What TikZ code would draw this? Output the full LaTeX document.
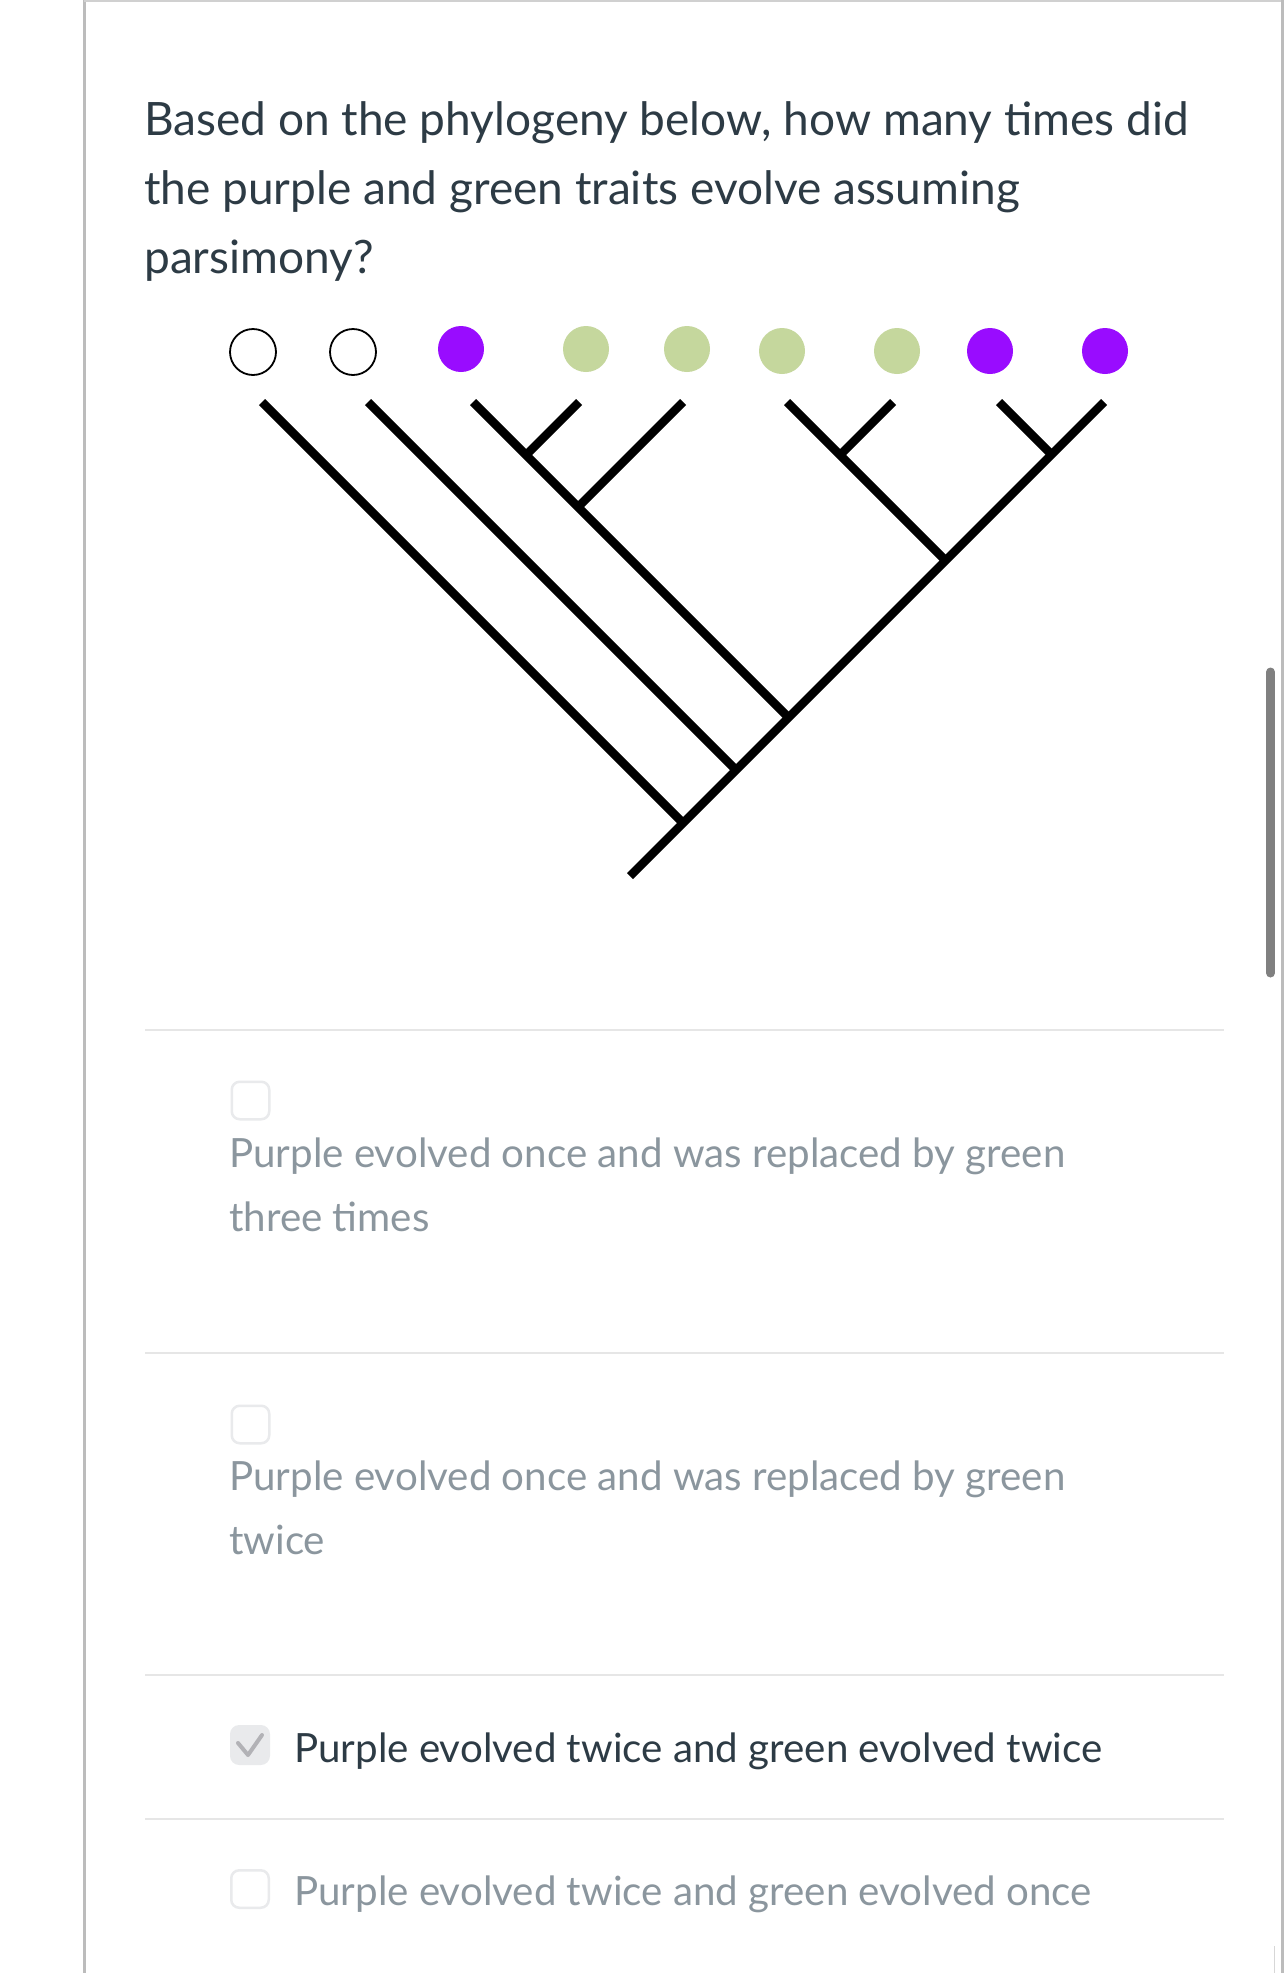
\documentclass[tikz,border=0pt]{standalone}
\usepackage{fontspec}
\setmainfont{Lato}
\usetikzlibrary{positioning, calc}
\definecolor{canvasdark}{RGB}{45, 59, 69}
\definecolor{canvasgray}{RGB}{139, 150, 158}
\definecolor{traitpurple}{RGB}{153, 12, 255}
\definecolor{traitgreen}{RGB}{197, 215, 157}
\definecolor{boxgray}{RGB}{233, 234, 236}
\definecolor{checkgray}{RGB}{178, 178, 182}
\definecolor{rulegray}{RGB}{230, 230, 230}
\definecolor{framegray}{RGB}{188, 188, 188}
\definecolor{scrollgray}{RGB}{128, 128, 128}
\tikzstyle{question} = [anchor=base west, inner sep=0pt, text=canvasdark, font=\fontsize{46}{66}\selectfont]
\tikzstyle{answer} = [anchor=base west, inner sep=0pt, text=canvasgray, font=\fontsize{40.3}{60}\selectfont]
\tikzstyle{chosen} = [answer, text=canvasdark]
\tikzstyle{tip} = [circle, minimum size=46pt, inner sep=0pt]
\tikzstyle{absenttip} = [tip, draw=black, line width=1.8pt, fill=white]
\tikzstyle{purpletip} = [tip, fill=traitpurple]
\tikzstyle{greentip} = [tip, fill=traitgreen]
\tikzstyle{branch} = [line width=8.5pt, line cap=butt, line join=miter]
\tikzstyle{checkbox} = [rectangle, rounded corners=8pt, minimum size=37.5pt, draw=boxgray, line width=2.5pt, fill=white]
\tikzstyle{ticked} = [checkbox, fill=boxgray]
\tikzstyle{checkmark} = [checkgray, line width=4pt, line cap=round, line join=round]
\tikzstyle{divider} = [rulegray, line width=2pt]

\begin{document}
\begin{tikzpicture}[x=1pt, y=-1pt]

\useasboundingbox (0,0) rectangle (1284,1973);
\fill[white] (0,0) rectangle (1284,1973);

% Frame and scrollbar
\draw[framegray, line width=3pt] (84,0) -- (84,1973);
\draw[framegray!70, line width=2pt] (84,1) -- (1284,1);
\draw[framegray, line width=3pt] (1282,0) -- (1282,1973);
\draw[framegray!60, line width=1pt] (1274,1946) -- (1274,1973);
\draw[scrollgray, line width=9pt, line cap=round] (1270.5,672) -- (1270.5,973);

% Question
\node (q1) [question] at (144,135) {Based on the phylogeny below, how many times did};
\node (q2) [question] at (144,204) {the purple and green traits evolve assuming};
\node (q3) [question] at (144,273) {parsimony?};

% Tips
\node (t1) [absenttip] at (253,352) {};
\node (t2) [absenttip] at (353,352) {};
\node (t3) [purpletip] at (461,349) {};
\node (t4) [greentip] at (586,349) {};
\node (t5) [greentip] at (687,349) {};
\node (t6) [greentip] at (782,351) {};
\node (t7) [greentip] at (897,351) {};
\node (t8) [purpletip] at (990,351) {};
\node (t9) [purpletip] at (1105,351) {};

% Branch ends and splits
\coordinate (e1) at (262,402);
\coordinate (e2) at (368,402);
\coordinate (e3) at (473,402);
\coordinate (e4) at (579,402);
\coordinate (e5) at (683,402);
\coordinate (e6) at (787,402);
\coordinate (e7) at (893,402);
\coordinate (e8) at (999,402);
\coordinate (e9) at (1104,402);
\coordinate (s34) at (526,455);
\coordinate (s345) at (578,507);
\coordinate (s67) at (840,455);
\coordinate (s89) at (1051.5,454.5);
\coordinate (s6789) at (945.5,560.5);
\coordinate (sA) at (788.5,717.5);
\coordinate (sB) at (736,770);
\coordinate (root) at (683,823);
\coordinate (stem) at (630,876);

% Branches
\draw [branch] (e9) -- (stem);
\draw [branch] (e1) -- (root);
\draw [branch] (e2) -- (sB);
\draw [branch] (e3) -- (sA);
\draw [branch] (e4) -- (s34);
\draw [branch] (e5) -- (s345);
\draw [branch] (e6) -- (s6789);
\draw [branch] (e7) -- (s67);
\draw [branch] (e8) -- (s89);

% Answers
\draw [divider] (145,1030) -- (1224,1030);
\node (box1) [checkbox] at (250.5,1100.5) {};
\node (a1) [answer] at (229,1167) {Purple evolved once and was replaced by green};
\node (a1b) [answer] at (229,1231) {three times};

\draw [divider] (145,1353) -- (1224,1353);
\node (box2) [checkbox] at (250.5,1424.5) {};
\node (a2) [answer] at (229,1490) {Purple evolved once and was replaced by green};
\node (a2b) [answer] at (229,1554) {twice};

\draw [divider] (145,1675) -- (1224,1675);
\node (box3) [ticked] at (250,1745) {};
\draw [checkmark] ([shift={(-12,-2)}]box3.center) -- ([shift={(-2,10)}]box3.center) -- ([shift={(12,-10)}]box3.center);
\node (a3) [chosen] at (294,1762) {Purple evolved twice and green evolved twice};

\draw [divider] (145,1819) -- (1224,1819);
\node (box4) [checkbox] at (250,1889) {};
\node (a4) [answer] at (294,1905) {Purple evolved twice and green evolved once};

\end{tikzpicture}
\end{document}
